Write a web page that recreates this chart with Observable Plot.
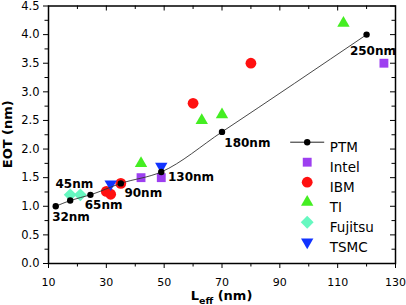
<!DOCTYPE html>
<html><head><meta charset="utf-8">
<script src="https://cdn.jsdelivr.net/npm/d3@7"></script>
<script src="https://cdn.jsdelivr.net/npm/@observablehq/plot@0.6"></script>
<style>body{margin:0;background:#fff}</style>
</head><body><div id="chart"></div>
<script>
// ---- data ----
const ptmLeff = [12.5, 17.5, 24.5, 35, 49, 70, 120];
const ptmEot = [1.0, 1.1, 1.2, 1.4, 1.6, 2.3, 4.0];
const ptmLabels = ["32nm", "45nm", "65nm", "90nm", "130nm", "180nm", "250nm"];
const intelLeff = [42, 49, 126];
const intelEot = [1.5, 1.5, 3.5];
const ibmLeff = [30, 31.5, 35, 60, 80];
const ibmEot = [1.26, 1.21, 1.4, 2.8, 3.5];
const tiLeff = [42, 63, 70, 112];
const tiEot = [1.75, 2.5, 2.6, 4.2];
const fujitsuLeff = [17.5, 21];
const fujitsuEot = [1.2, 1.2];
const tsmcLeff = [31.5, 49];
const tsmcEot = [1.39, 1.7];
const seriesNames = ["PTM", "Intel", "IBM", "TI", "Fujitsu", "TSMC"];
const xMajor = [10, 30, 50, 70, 90, 110, 130];
const xMinor = [20, 40, 60, 80, 100, 120];
const yMajor = [0, 0.5, 1.0, 1.5, 2.0, 2.5, 3.0, 3.5, 4.0, 4.5];
const yMinor = [0.25, 0.75, 1.25, 1.75, 2.25, 2.75, 3.25, 3.75, 4.25];

// ---- layout / style ----
const W = 406, H = 305, ML = 48, MR = 11, MT = 5.5, MB = 42;
const IW = W - ML - MR, IH = H - MT - MB;
const zip = (xs, ys) => xs.map((x, i) => ({x, y: ys[i]}));
const ptm = ptmLeff.map((x, i) => ({x, y: ptmEot[i], label: ptmLabels[i]}));
const labelOffsets = [[-3.6, 10.5], [-14.7, -16.5], [-5.7, 10.7], [3.6, 10], [6.7, 5], [2.3, 11.5], [-16.7, 17]];
const lineSymbol = {draw(ctx) { ctx.moveTo(-17, 0); ctx.lineTo(17, 0); }};
const styles = {
  PTM: {symbol: "circle", fill: "black", r: 3.2},
  Intel: {symbol: "square", fill: "#9d3ff0", r: 5},
  IBM: {symbol: "circle", fill: "#ff1010", r: 5.4},
  TI: {symbol: "triangle", fill: "#44ee22", r: 4.6},
  Fujitsu: {symbol: "diamond2", fill: "#66f8c0", r: 5.8},
  TSMC: {symbol: "triangle", fill: "#1133ff", r: 4.6, rotate: 180}
};
const dotMark = (data, name) => Plot.dot(data, {x: "x", y: "y", ...styles[name], stroke: null});

const legendMarks = [];
seriesNames.forEach((name, i) => {
  const dy = 136.2 + 20 * i;
  if (name === "PTM") legendMarks.push(Plot.dot([name], {frameAnchor: "top-left", dx: 258.7, dy, symbol: lineSymbol, stroke: "#222", strokeWidth: 1, r: 5}));
  legendMarks.push(Plot.dot([name], {frameAnchor: "top-left", dx: 258.7, dy, ...styles[name]}));
  legendMarks.push(Plot.text([name], {frameAnchor: "top-left", dx: 281.3, dy, text: d => d, textAnchor: "start", fontSize: 13.5, fill: "black"}));
});

const plot = Plot.plot({
  width: W, height: H,
  marginLeft: ML, marginRight: MR, marginTop: MT, marginBottom: MB,
  style: {fontFamily: "DejaVu Sans", fontSize: "11.5px", background: "white", color: "black"},
  x: {domain: [10, 130]},
  y: {domain: [0, 4.5]},
  marks: [
    Plot.axisX(xMajor, {tickSize: 5, tickPadding: 10, tickFormat: d => d, label: null, fontSize: 11}),
    Plot.axisX(xMinor, {tickSize: 3.5, tickFormat: () => "", label: null}),
    Plot.axisY(yMajor, {tickSize: 5, tickPadding: 4, tickFormat: d3.format(".1f"), label: null}),
    Plot.axisY(yMinor, {tickSize: 3.5, tickFormat: () => "", label: null}),
    Plot.tickX(xMajor, {x: d => d, insetBottom: IH - 5, stroke: "black"}),
    Plot.tickX(xMinor, {x: d => d, insetBottom: IH - 3.5, stroke: "black"}),
    Plot.tickY(yMajor, {y: d => d, insetLeft: IW - 5, stroke: "black"}),
    Plot.tickY(yMinor, {y: d => d, insetLeft: IW - 3.5, stroke: "black"}),
    dotMark(zip(intelLeff, intelEot), "Intel"),
    dotMark(zip(ibmLeff, ibmEot), "IBM"),
    dotMark(zip(tiLeff, tiEot), "TI"),
    dotMark(zip(fujitsuLeff, fujitsuEot), "Fujitsu"),
    dotMark(zip(tsmcLeff, tsmcEot), "TSMC"),
    Plot.line(ptm, {x: "x", y: "y", curve: "monotone-x", stroke: "#333", strokeWidth: 0.9}),
    dotMark(ptm, "PTM"),
    ...ptm.map((d, i) => Plot.text([d], {x: "x", y: "y", text: "label", textAnchor: "start", dx: labelOffsets[i][0], dy: labelOffsets[i][1], fontWeight: "bold", fontSize: 12, fill: "black"})),
    ...legendMarks,
    Plot.frame({stroke: "black", strokeWidth: 1.5})
  ]
});
document.getElementById("chart").appendChild(plot);

// axis titles (with subscript)
const svg = d3.select(plot);
const xt = svg.append("text").attr("x", ML + IW / 2).attr("y", 300).attr("text-anchor", "middle")
  .attr("font-weight", "bold").attr("font-size", 13).attr("fill", "black");
xt.append("tspan").text("L");
xt.append("tspan").attr("font-size", 9.5).attr("dy", 3.5).text("eff");
xt.append("tspan").attr("dy", -3.5).text(" (nm)");
svg.append("text").attr("transform", `translate(12,${MT + IH / 2}) rotate(-90)`).attr("text-anchor", "middle")
  .attr("font-weight", "bold").attr("font-size", 13).attr("fill", "black").text("EOT (nm)");
</script>
</body></html>
